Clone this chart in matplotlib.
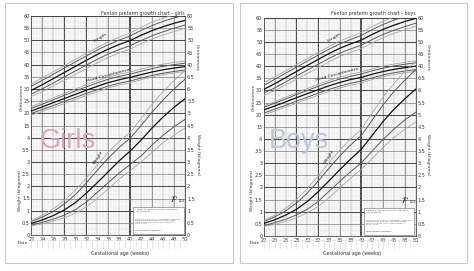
import matplotlib
matplotlib.use('Agg')
import matplotlib.pyplot as plt
from matplotlib.patches import Rectangle

# ---------------- data ----------------
weeks = [22, 24, 26, 28, 30, 32, 34, 36, 38, 40, 42, 44, 46, 48, 50]
percentiles = ['3rd', '10th', '50th', '90th', '97th']
x_tick_labels = [22, 24, 26, 28, 30, 32, 34, 36, 38, 40, 42, 44, 46, 48, 50]

girls_length = [
    [27.0, 29.0, 31.3, 33.6, 36.0, 38.4, 40.8, 43.0, 44.8, 46.4, 48.6, 50.6, 52.2, 53.6, 55.0],
    [28.0, 30.1, 32.5, 35.0, 37.4, 39.8, 42.2, 44.4, 46.2, 47.8, 49.9, 51.9, 53.5, 55.0, 56.3],
    [29.5, 31.8, 34.3, 36.8, 39.3, 41.8, 44.2, 46.4, 48.3, 49.9, 52.1, 54.0, 55.6, 57.0, 58.2],
    [31.2, 33.6, 36.1, 38.6, 41.1, 43.6, 46.0, 48.2, 50.1, 51.8, 54.1, 56.1, 57.8, 59.2, 60.4],
    [32.2, 34.6, 37.1, 39.6, 42.2, 44.7, 47.1, 49.4, 51.3, 53.0, 55.4, 57.5, 59.1, 60.5, 61.6],
]
girls_head = [
    [19.3, 20.8, 22.4, 24.0, 25.7, 27.3, 28.9, 30.4, 31.7, 32.6, 33.8, 35.0, 35.9, 36.6, 37.2],
    [20.0, 21.6, 23.2, 24.9, 26.5, 28.2, 29.7, 31.2, 32.4, 33.3, 34.5, 35.6, 36.5, 37.2, 37.8],
    [21.0, 22.7, 24.4, 26.1, 27.8, 29.5, 31.1, 32.6, 33.8, 34.8, 35.9, 37.0, 37.9, 38.6, 39.2],
    [22.1, 23.8, 25.6, 27.4, 29.2, 30.9, 32.5, 34.0, 35.2, 36.1, 37.3, 38.4, 39.3, 40.0, 40.6],
    [22.8, 24.6, 26.4, 28.2, 30.0, 31.8, 33.4, 34.9, 36.1, 37.0, 38.2, 39.3, 40.2, 40.9, 41.5],
]
girls_weight = [
    [0.37, 0.46, 0.57, 0.71, 0.90, 1.15, 1.50, 1.90, 2.30, 2.65, 3.00, 3.40, 3.80, 4.10, 4.40],
    [0.41, 0.52, 0.65, 0.82, 1.04, 1.35, 1.75, 2.15, 2.55, 2.90, 3.25, 3.70, 4.10, 4.45, 4.75],
    [0.48, 0.62, 0.80, 1.03, 1.33, 1.72, 2.15, 2.60, 3.05, 3.45, 3.90, 4.40, 4.85, 5.25, 5.60],
    [0.56, 0.74, 0.97, 1.28, 1.66, 2.14, 2.66, 3.16, 3.60, 3.98, 4.50, 5.05, 5.55, 6.00, 6.40],
    [0.60, 0.81, 1.08, 1.43, 1.84, 2.34, 2.88, 3.40, 3.84, 4.22, 4.78, 5.38, 5.90, 6.35, 6.75],
]
boys_length = [
    [28.0, 30.0, 32.3, 34.6, 37.0, 39.4, 41.8, 44.0, 45.7, 47.3, 49.6, 51.8, 53.5, 55.0, 56.4],
    [29.0, 31.1, 33.5, 36.0, 38.4, 40.8, 43.2, 45.4, 47.1, 48.7, 51.0, 53.1, 54.8, 56.3, 57.7],
    [30.5, 32.8, 35.3, 37.8, 40.3, 42.8, 45.2, 47.4, 49.2, 50.8, 53.1, 55.2, 56.9, 58.4, 59.7],
    [32.1, 34.6, 37.1, 39.6, 42.1, 44.6, 47.0, 49.2, 51.0, 52.7, 55.1, 57.2, 59.0, 60.5, 61.8],
    [33.2, 35.6, 38.1, 40.6, 43.2, 45.7, 48.1, 50.4, 52.2, 53.9, 56.4, 58.5, 60.3, 61.8, 63.1],
]
boys_head = [
    [20.0, 21.5, 23.1, 24.7, 26.4, 28.0, 29.6, 31.0, 32.2, 33.1, 34.5, 35.7, 36.6, 37.3, 37.9],
    [20.7, 22.3, 23.9, 25.6, 27.2, 28.9, 30.4, 31.8, 33.0, 33.9, 35.2, 36.4, 37.3, 38.0, 38.6],
    [22.0, 23.6, 25.3, 27.0, 28.7, 30.3, 31.9, 33.3, 34.5, 35.4, 36.7, 37.8, 38.7, 39.4, 40.0],
    [23.1, 24.8, 26.5, 28.3, 30.0, 31.7, 33.3, 34.7, 35.8, 36.8, 38.1, 39.2, 40.1, 40.8, 41.4],
    [23.6, 25.4, 27.2, 29.0, 30.8, 32.5, 34.1, 35.5, 36.7, 37.6, 38.9, 40.0, 40.9, 41.6, 42.2],
]
boys_weight = [
    [0.39, 0.48, 0.60, 0.75, 0.95, 1.22, 1.58, 1.98, 2.38, 2.75, 3.20, 3.65, 4.05, 4.40, 4.70],
    [0.43, 0.55, 0.69, 0.87, 1.10, 1.42, 1.84, 2.25, 2.65, 3.02, 3.50, 3.98, 4.40, 4.78, 5.10],
    [0.52, 0.67, 0.86, 1.10, 1.42, 1.82, 2.27, 2.73, 3.17, 3.58, 4.15, 4.72, 5.22, 5.65, 6.05],
    [0.60, 0.79, 1.03, 1.36, 1.77, 2.26, 2.79, 3.30, 3.75, 4.15, 4.78, 5.40, 5.95, 6.42, 6.85],
    [0.64, 0.86, 1.14, 1.51, 1.95, 2.47, 3.02, 3.54, 4.00, 4.40, 5.08, 5.72, 6.28, 6.77, 7.20],
]

pct_colors = ['#a8a8a8', '#5a5a5a', '#111111', '#5a5a5a', '#a8a8a8']
pct_widths = [0.6, 0.7, 0.9, 0.7, 0.6]

W, H = 474, 271


def box(l, t, r, b):
    return [l / W, 1 - b / H, (r - l) / W, (b - t) / H]


def kg_to_axis(w):
    # shared vertical scale: 0.5 kg occupies the same space as 5 cm; 4 kg sits on 10 cm
    return [10 * v - 30 for v in w]


def fmt(v):
    return ('%g' % v)


fig = plt.figure(figsize=(W / 100, H / 100), dpi=100)
fig.patch.set_facecolor('white')

TICK_FS = 3.5


def draw_chart(sex, pane, plot, lengths, heads, wts, name_color, name_x, lab_pos):
    l, t, r, b = pane
    fig.add_artist(Rectangle((l / W, 1 - b / H), (r - l) / W, (b - t) / H,
                             transform=fig.transFigure, fill=False,
                             edgecolor='#c8c8c8', lw=0.8))
    ax = fig.add_axes(box(*plot))
    ax.set_xlim(22, 50)
    ax.set_ylim(-30, 60)
    # grid
    for i in range(0, 57):
        xv = 22 + i * 0.5
        ax.axvline(xv, color='#d6d6d6', lw=0.25, zorder=0)
    for xv in range(22, 51, 2):
        ax.axvline(xv, color='#a8a8a8', lw=0.35, zorder=0)
    for xv in [24, 36, 44, 48]:
        ax.axvline(xv, color='#707070', lw=0.5, zorder=0)
    for xv in [28, 32]:
        ax.axvline(xv, color='#333333', lw=0.7, zorder=0)
    ax.axvline(40, color='#111111', lw=1.1, zorder=0)
    for yv in range(-30, 61):
        ax.axhline(yv, color='#d6d6d6', lw=0.25, zorder=0)
    for yv in range(-30, 61, 5):
        ax.axhline(yv, color='#707070', lw=0.45, zorder=0)
    for yv in range(-30, 61, 10):
        ax.axhline(yv, color='#3a3a3a', lw=0.6, zorder=0)

    for k in range(5):
        ax.plot(weeks, lengths[k], color=pct_colors[k], lw=pct_widths[k], zorder=3)
        ax.plot(weeks, heads[k], color=pct_colors[k], lw=pct_widths[k], zorder=3)
        ax.plot(weeks, kg_to_axis(wts[k]), color=pct_colors[k], lw=pct_widths[k], zorder=3)

    yt = list(range(-30, 61, 5))
    ax.set_yticks(yt)
    ax.set_yticklabels([str(c) if c >= 15 else fmt((c + 30) / 10) for c in yt])
    ax.set_xticks(x_tick_labels)
    ax.set_xticklabels([str(v) for v in x_tick_labels])
    ax.tick_params(axis='both', length=0, pad=1.2, labelsize=TICK_FS, colors='#333333')
    for s in ax.spines.values():
        s.set_color('#444444')
        s.set_linewidth(0.6)
    # right hand labels: cm at top, kg below
    ax2 = ax.twinx()
    ax2.set_ylim(-30, 60)
    ax2.set_yticks(yt)
    ax2.set_yticklabels([str(c) if c >= 40 else fmt((c + 30) / 10) for c in yt])
    ax2.tick_params(axis='y', length=0, pad=1.5, labelsize=TICK_FS, colors='#333333')
    for s in ax2.spines.values():
        s.set_visible(False)

    # legend box in lower right
    ax.add_patch(Rectangle((0.662, 0.006), 0.33, 0.122, transform=ax.transAxes,
                           facecolor='white', edgecolor='#666666', lw=0.4, zorder=5))
    ax.text(0.675, 0.118, '* Equal to the WHO Growth Standard\n  at 50 weeks', transform=ax.transAxes,
            fontsize=1.6, va='top', ha='left', color='#444444', zorder=6)
    ax.text(0.675, 0.075, 'Fenton TR and Kim JH. A systematic review and\nmeta-analysis to revise the Fenton growth\nchart for preterm infants. BMC Pediatrics\n2013, 13:59',
            transform=ax.transAxes, fontsize=1.4, va='top', ha='left', color='#555555', zorder=6)
    ax.text(0.675, 0.018, 'www.ucalgary.ca/fenton', transform=ax.transAxes,
            fontsize=1.6, va='bottom', ha='left', color='#444444', zorder=6)
    ax.text(0.955, 0.14, r'$\mathcal{F}$', transform=ax.transAxes, fontsize=6,
            ha='right', va='bottom', color='#222222', zorder=6)
    ax.text(0.962, 0.145, '2013', transform=ax.transAxes, fontsize=1.8,
            ha='left', va='bottom', color='#222222', zorder=6)

    # curve names
    (lx, ly), (hx, hy), (wx, wy) = lab_pos
    pl, pt, pr, pb = plot

    def to_ax(px, py):
        return ((px - pl) / (pr - pl), (pb - py) / (pb - pt))
    for (px, py), txt, rot in [((lx, ly), 'Length', 30), ((hx, hy), 'Head Circumference', 15),
                               ((wx, wy), 'Weight', 57)]:
        ax.text(*to_ax(px, py), txt, transform=ax.transAxes, rotation=rot, fontsize=3.2,
                ha='center', va='center', color='#222222', zorder=6)

    # title
    fig.text(pr / W, 1 - 13.5 / H, 'Fenton preterm growth chart - ' + sex.lower(), fontsize=3.4,
             ha='right', va='center', color='#333333')
    # axis titles
    fig.text((pl - 10) / W, 1 - 98 / H, 'Centimeters', rotation=90, fontsize=3.2,
             ha='center', va='center', color='#333333')
    fig.text((pl - 12) / W, 1 - 190 / H, 'Weight (kilograms)', rotation=90, fontsize=3.2,
             ha='center', va='center', color='#333333')
    fig.text((pr + 12) / W, 1 - 57 / H, 'Centimeters', rotation=270, fontsize=3.2,
             ha='center', va='center', color='#333333')
    fig.text((pr + 13) / W, 1 - 155 / H, 'Weight (kilograms)', rotation=270, fontsize=3.2,
             ha='center', va='center', color='#333333')
    fig.text((pl - 14) / W, 1 - 243 / H, 'Date', fontsize=3.2, ha='left', va='center', color='#333333')
    fig.text((pl + pr) / 2 / W + 0.025, 1 - 253 / H, 'Gestational age (weeks)', fontsize=3.4,
             ha='center', va='center', color='#333333')

    # date row
    dax = fig.add_axes(box(pl, 240, pr, 249))
    dax.set_xlim(22, 50)
    dax.set_ylim(0, 1)
    for xv in range(22, 51):
        dax.axvline(xv, color='#dcdcdc', lw=0.5)
    dax.axhline(0.02, color='#e4e4e4', lw=0.5)
    dax.axhline(0.98, color='#e4e4e4', lw=0.5)
    dax.axis('off')

    # big sex name
    fig.text(name_x / W, 1 - 148 / H, sex, fontsize=19.5, family='Liberation Sans',
             color=name_color, ha='left', va='baseline', zorder=4)
    return ax


draw_chart('Girls', (5, 3, 233, 263), (31.5, 16, 185, 235),
           girls_length, girls_head, girls_weight, '#d9a6b6', 40,
           [(100, 37), (108, 75), (98, 157)])
draw_chart('Boys', (240, 3, 467, 263), (264, 17.7, 415.5, 236),
           boys_length, boys_head, boys_weight, '#bcc6dc', 269,
           [(334, 37), (337, 74), (329, 156)])

fig.savefig('out.png', dpi=100, facecolor='white')
